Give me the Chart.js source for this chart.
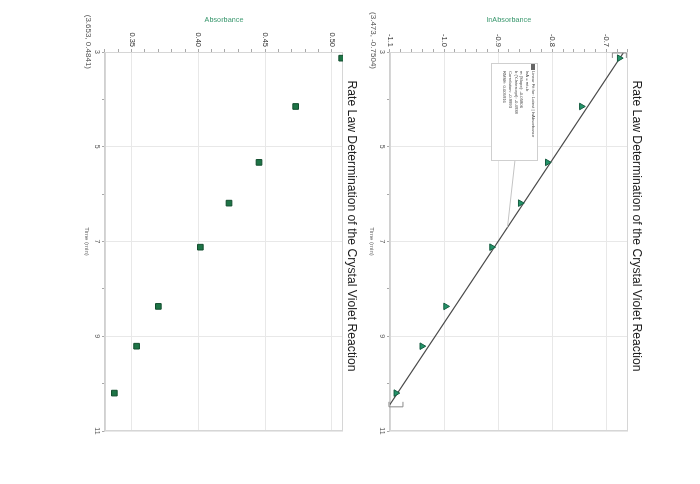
<!DOCTYPE html>
<html>
<head>
<meta charset="utf-8">
<script src="https://cdn.jsdelivr.net/npm/chart.js@4"></script>
<style>
html,body{margin:0;padding:0;background:#fff;overflow:hidden;width:700px;height:484px}
#page{position:absolute;left:0;top:0;width:484px;height:700px;transform-origin:0 0;transform:translate(700px,0) rotate(90deg);background:#fff}
#page canvas{position:absolute;left:0;width:484px;height:282px}
</style>
</head>
<body>
<div id="page">
<canvas id="lnChart" width="484" height="282" style="top:52px"></canvas>
<canvas id="absChart" width="484" height="282" style="top:337px"></canvas>
</div>
<script>
// ---- data ----
const timeMin = [3.13, 4.15, 5.33, 6.19, 7.12, 8.37, 9.21, 10.20];
const absorbance = [0.5075, 0.473, 0.4455, 0.423, 0.4015, 0.370, 0.3537, 0.337];
const lnAbsorbance = [-0.676, -0.746, -0.809, -0.859, -0.912, -0.997, -1.041, -1.089];
const fitRange = [3.02, 10.49];
const fitLine = [-0.669, -1.103];
const fitLegendLines = [
  "Linear Fit for: Latest | lnAbsorbance",
  "lnA = mt+b",
  "m (Slope): -0.05806",
  "b (Y-Intercept): -0.4938",
  "Correlation: -0.9993",
  "RMSE: 0.005916"
];
const timeTicks = [3, 5, 7, 9, 11];
const lnTicks = [-1.1, -1.0, -0.9, -0.8, -0.7];
const absTicks = [0.35, 0.40, 0.45, 0.50];
const chartTitle = "Rate Law Determination of the Crystal Violet Reaction";
const lnReadout = "(3.473, -0.7504)";
const absReadout = "(3.653, 0.4841)";

Chart.defaults.font.family = "'Liberation Sans', Arial, sans-serif";

const FONT = "'Liberation Sans', Arial, sans-serif";
const near = (a, b) => Math.abs(a - b) < 1e-6;
const inList = (v, list) => list.some(t => near(t, v));
const onStep = (v, s) => Math.abs(v / s - Math.round(v / s)) < 1e-6;

function decorPlugin(readout, extra) {
  return {
    id: 'decor',
    beforeDatasetsDraw(chart) {
      const {ctx, chartArea: a} = chart;
      ctx.save();
      ctx.strokeStyle = '#d6d6d6';
      ctx.lineWidth = 1;
      ctx.strokeRect(a.left + 0.5, a.top + 0.5, a.right - a.left - 1, a.bottom - a.top - 1);
      ctx.restore();
    },
    afterDraw(chart) {
      const {ctx, chartArea: a} = chart;
      ctx.save();
      // main title
      ctx.fillStyle = '#1e1e1e';
      ctx.font = '12.2px ' + FONT;
      ctx.textAlign = 'center';
      ctx.textBaseline = 'alphabetic';
      ctx.fillText(chartTitle, 226, a.top - 5);
      // cursor readout
      ctx.fillStyle = '#555';
      ctx.font = '8px ' + FONT;
      ctx.textAlign = 'right';
      ctx.textBaseline = 'middle';
      ctx.fillText(readout, a.left + 17, a.bottom + 17);
      ctx.restore();
      if (extra) extra(chart);
    }
  };
}

function fitDecor(chart) {
  const {ctx, chartArea: a, scales: {x, y}} = chart;
  ctx.save();
  // brackets marking the fit range
  ctx.strokeStyle = '#8a8a8a';
  ctx.lineWidth = 1;
  const px0 = x.getPixelForValue(fitRange[0]);
  const py0 = y.getPixelForValue(lnAbsorbance[0]);
  ctx.beginPath();
  ctx.moveTo(px0 + 5, py0 - 7); ctx.lineTo(px0, py0 - 7); ctx.lineTo(px0, py0 + 7); ctx.lineTo(px0 + 5, py0 + 7);
  ctx.stroke();
  const px1 = x.getPixelForValue(fitRange[1]);
  const py1 = y.getPixelForValue(lnAbsorbance[lnAbsorbance.length - 1]);
  ctx.beginPath();
  ctx.moveTo(px1 - 5, py1 - 7); ctx.lineTo(px1, py1 - 7); ctx.lineTo(px1, py1 + 7); ctx.lineTo(px1 - 5, py1 + 7);
  ctx.stroke();
  // legend box
  const bx = a.left + 11, by = a.top + 90, bw = 97, bh = 46;
  const tLead = 6.7;
  const f = (tLead - fitRange[0]) / (fitRange[1] - fitRange[0]);
  const yLead = fitLine[0] + f * (fitLine[1] - fitLine[0]);
  ctx.strokeStyle = '#c4c4c4';
  ctx.beginPath();
  ctx.moveTo(bx + bw, by + bh / 2);
  ctx.lineTo(x.getPixelForValue(tLead), y.getPixelForValue(yLead));
  ctx.stroke();
  ctx.fillStyle = '#fff';
  ctx.fillRect(bx, by, bw, bh);
  ctx.strokeStyle = '#cfcfcf';
  ctx.strokeRect(bx + 0.5, by + 0.5, bw, bh);
  ctx.fillStyle = '#666';
  ctx.fillRect(bx + 1, by + 3, 6, 4);
  ctx.fillStyle = '#444';
  ctx.font = '4.2px ' + FONT;
  ctx.textAlign = 'left';
  ctx.textBaseline = 'middle';
  fitLegendLines.forEach((s, i) => ctx.fillText(s, bx + 8, by + 5 + i * 5.7));
  ctx.restore();
}

function baseOptions(yCfg) {
  return {
    responsive: false,
    animation: false,
    devicePixelRatio: 1,
    layout: {padding: {top: 20, right: 53, left: 0, bottom: 0}},
    plugins: {legend: {display: false}, tooltip: {enabled: false}, title: {display: false}},
    scales: {
      x: {
        type: 'linear', min: 3, max: 11,
        ticks: {
          stepSize: 1, autoSkip: false, maxRotation: 0, padding: 1,
          color: '#555', font: {size: 7},
          callback: v => inList(v, timeTicks) ? String(v) : ''
        },
        grid: {
          color: c => inList(c.tick.value, timeTicks) ? '#e8e8e8' : 'rgba(0,0,0,0)',
          tickColor: '#a8a8a8', tickLength: 3, lineWidth: 1
        },
        border: {color: '#d0d0d0'},
        title: {display: true, text: 'Time (min)', color: '#666', font: {size: 6}, padding: {top: 0, bottom: 2}},
        afterFit: s => { s.height = 24; }
      },
      y: {
        type: 'linear', min: yCfg.min, max: yCfg.max,
        ticks: {
          stepSize: yCfg.minor, autoSkip: false, padding: 2,
          color: '#333', font: {size: 7.5},
          callback: v => inList(v, yCfg.labels) ? v.toFixed(yCfg.dec) : ''
        },
        grid: {
          color: c => inList(c.tick.value, yCfg.labels) ? '#e8e8e8' : 'rgba(0,0,0,0)',
          tickColor: c => onStep(c.tick.value, yCfg.minor) ? '#a8a8a8' : 'rgba(0,0,0,0)',
          tickLength: 3, lineWidth: 1
        },
        border: {color: '#d0d0d0'},
        title: {display: true, text: yCfg.title, color: '#3d9970', font: {size: 7.3}, padding: {top: 15.6, bottom: 0}},
        afterFit: s => { s.width = 52; }
      }
    }
  };
}

new Chart(document.getElementById('lnChart'), {
  type: 'scatter',
  data: {
    datasets: [
      {
        label: 'lnAbsorbance',
        data: timeMin.map((t, i) => ({x: t, y: lnAbsorbance[i]})),
        pointStyle: 'triangle', pointRadius: 3.8,
        backgroundColor: '#23946a', borderColor: '#155c40', borderWidth: 1
      },
      {
        label: 'Linear Fit',
        data: fitRange.map((t, i) => ({x: t, y: fitLine[i]})),
        showLine: true, pointRadius: 0, borderColor: '#4a4a4a', borderWidth: 1.2
      }
    ]
  },
  options: baseOptions({min: -1.1, max: -0.66, minor: 0.02, labels: lnTicks, dec: 1, title: 'lnAbsorbance'}),
  plugins: [decorPlugin(lnReadout, fitDecor)]
});

new Chart(document.getElementById('absChart'), {
  type: 'scatter',
  data: {
    datasets: [
      {
        label: 'Absorbance',
        data: timeMin.map((t, i) => ({x: t, y: absorbance[i]})),
        pointStyle: 'rect', pointRadius: 4,
        backgroundColor: '#1d7446', borderColor: '#124d2e', borderWidth: 1
      }
    ]
  },
  options: baseOptions({min: 0.33, max: 0.5085, minor: 0.01, labels: absTicks, dec: 2, title: 'Absorbance'}),
  plugins: [decorPlugin(absReadout, null)]
});
</script>
</body>
</html>
